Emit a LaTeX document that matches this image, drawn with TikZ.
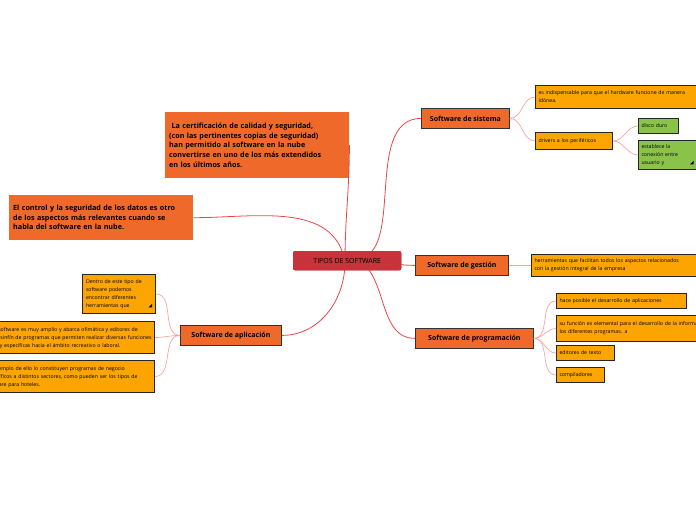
\documentclass[tikz,border=0pt]{standalone}
\usepackage{fontspec}
\setmainfont{Open Sans}
\newcommand{\cornertri}{\tikz[x=1pt,y=1pt,baseline=0pt]\fill (0,0)--(3.5,0)--(3.5,3.5)--cycle;}
\begin{document}
\begin{tikzpicture}[x=1pt,y=-1pt,
  main/.style={draw=black!80,line width=0.8pt,fill=mainorange,font=\bfseries\fontsize{7}{9}\selectfont,inner sep=2pt,anchor=north west,align=left},
  leaf/.style={draw=black!85,line width=1pt,fill=leaforange,font=\fontsize{5.2}{8}\selectfont,inner sep=3pt,anchor=north west,align=left},
  gleaf/.style={leaf,fill=leafgreen},
  big/.style={fill=mainorange,font=\bfseries\fontsize{7.2}{9.6}\selectfont,inner sep=4pt,anchor=north west,align=left},
  ce/.style={draw=edgered,line width=0.8pt},
  le/.style={draw=edgepink,line width=0.7pt}]
\definecolor{mainorange}{HTML}{EF6A2A}
\definecolor{leaforange}{HTML}{FCA500}
\definecolor{leafgreen}{HTML}{8BC34A}
\definecolor{edgered}{HTML}{E8474A}
\definecolor{edgepink}{HTML}{F6A5A5}
\definecolor{centerred}{HTML}{C8323A}
\useasboundingbox (0,0) rectangle (696,520);
% center
\node[draw=centerred!70!black,fill=centerred,rounded corners=2pt,minimum width=108pt,minimum height=19pt,font=\fontsize{7}{9}\selectfont,anchor=north west] (c) at (293,251) {TIPOS DE SOFTWARE};
\coordinate (cr) at (350,258);
\coordinate (cl) at (345,262);
% main nodes
\node[main,minimum width=88pt,minimum height=20pt] (sis) at (421,108) {Software de sistema};
\node[main,minimum width=93pt,minimum height=20pt] (ges) at (415,255) {Software de gestión};
\node[main,minimum width=118pt,minimum height=20pt] (pro) at (415,328) {Software de programación};
\node[main,minimum width=101pt,minimum height=20pt] (apl) at (180,325) {Software de aplicación};
\node[big,text width=176pt,minimum height=66pt] (t1) at (165,112) {\ La certificación de calidad y seguridad,\\(con las pertinentes copias de seguridad)\\han permitido al software en la nube\\convertirse en uno de los más extendidos\\en los últimos años.};
\node[big,text width=176pt,minimum height=45pt] (t2) at (9,195) {El control y la seguridad de los datos es otro\\de los aspectos más relevantes cuando se\\habla del software en la nube.};
% center edges
\draw[ce] (cr) to[out=-10,in=180] (sis.west);
\draw[ce] (cr) to[out=0,in=180] (ges.west);
\draw[ce] (cr) to[out=-10,in=180] (pro.west);
\draw[ce] (cl) to[out=-90,in=0] (apl.east);
\draw[ce] (cl) to[out=90,in=-90] (t1.east);
\draw[ce] (cl) to[out=100,in=0] (t2.east);
\node[draw=none,fill=centerred,rounded corners=2pt,minimum width=108pt,minimum height=19pt,font=\fontsize{7}{9}\selectfont,anchor=north west] (c2) at (293,251) {TIPOS DE SOFTWARE};
% sistema leaves
\node[leaf,minimum width=170pt,minimum height=23pt,text width=200pt] (s1) at (535,85) {es indispensable para que el hardware funcione de manera\\idónea.};
\node[leaf,minimum width=77pt,minimum height=17pt,text width=71pt] (s2) at (535,132) {drivers a los periféricos};
\node[gleaf,minimum width=40pt,minimum height=15pt,text width=34pt] (g1) at (638,118) {disco duro};
\node[gleaf,minimum width=58pt,minimum height=29pt,text width=52pt] (g2) at (638,140) {establece la\\conexión entre\\usuario y\hfill\cornertri};
\draw[le] (sis.east) to[out=0,in=180] (s1.west);
\draw[le] (sis.east) to[out=0,in=180] (s2.west);
\draw[le] (s2.east) to[out=0,in=180] (g1.west);
\draw[le] (s2.east) to[out=0,in=180] (g2.west);
% gestion
\node[leaf,minimum width=170pt,minimum height=22pt,text width=200pt] (ge1) at (531,254) {herramientas que facilitan todos los aspectos relacionados\\con la gestión integral de la empresa};
\draw[le] (ges.east) -- (ge1.west);
% programacion
\node[leaf,minimum width=130pt,minimum height=15pt,text width=124pt] (p1) at (556,293) {hace posible el desarrollo de aplicaciones};
\node[leaf,minimum width=150pt,minimum height=26pt,text width=200pt] (p2) at (556,315) {su función es elemental para el desarrollo de la informática de\\los diferentes programas. a};
\node[leaf,minimum width=58pt,minimum height=15pt,text width=52pt] (p3) at (556,345) {editores de texto};
\node[leaf,minimum width=48pt,minimum height=15pt,text width=42pt] (p4) at (556,367) {compiladores};
\foreach \n in {p1,p2,p3,p4} \draw[le] (pro.east) to[out=0,in=180] (\n.west);
% aplicacion
\node[leaf,minimum width=73pt,minimum height=39pt,text width=66pt] (a1) at (82,274) {Dentro de este tipo de\\software podemos\\encontrar diferentes\\herramientas que\hfill\cornertri};
\node[leaf,minimum height=32pt,anchor=north east,text width=230pt] (a2) at (155,321) {\hfill\begin{tabular}{@{}l@{}}Este tipo de software es muy amplio y abarca ofimática y editores de\\gráficos y un sinfín de programas que permiten realizar diversas funciones\\relacionadas y específicas hacia el ámbito recreativo o laboral.\end{tabular}\hspace*{14pt}};
\node[leaf,minimum height=32pt,anchor=north east,text width=230pt] (a3) at (155,360) {\hfill\begin{tabular}{@{}l@{}}Un ejemplo de ello lo constituyen programas de negocio\\específicos a distintos sectores, como pueden ser los tipos de\\software para hoteles.\end{tabular}\hspace*{14pt}\hspace*{-0pt}};
\foreach \n in {a1,a2,a3} \draw[le] (apl.west) to[out=180,in=0] (\n.east);
\end{tikzpicture}
\end{document}
